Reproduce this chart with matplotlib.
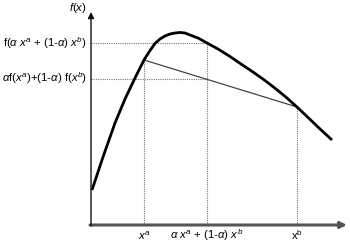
import matplotlib
matplotlib.use('Agg')
import matplotlib.pyplot as plt

plt.rcParams['font.family'] = ['Liberation Sans', 'DejaVu Sans']
plt.rcParams['mathtext.fontset'] = 'custom'
plt.rcParams['mathtext.rm'] = 'Liberation Sans'
plt.rcParams['mathtext.it'] = 'Liberation Sans:italic'

# concave curve f(x) (origin at the axes corner)
curve_x = [1, 12, 24, 34, 44, 53, 59, 64, 69, 74, 79, 84, 89, 94, 99, 107,
           116, 127, 139, 150, 162, 174, 185, 196, 206, 216, 228, 241]
curve_y = [35, 68, 102, 126, 147, 165, 174.5, 181.5, 186, 189, 191, 192, 192.5, 192,
           190, 187, 182, 176, 168.5, 161, 153, 144.5, 136, 127, 118, 108.5, 97, 85]

# points of interest
xa, xb, xm = 53, 206, 116
fa, fb, fm = 165, 118, 182
chord_m = 146.5

tick_pos = [xa, xm, xb]
tick_labels = [r'$x^a$', r'$\alpha\ x^a$ + (1-$\alpha$) $x^b$', r'x$^\mathrm{b}$']
ylabels = [r'f($\alpha\ x^a$ + (1-$\alpha$) $x^b$)', r'$\alpha$f($x^a$)+(1-$\alpha$) f($x^b$)']

fig = plt.figure(figsize=(3.5, 2.44), dpi=100)
ax = fig.add_axes([0, 0, 1, 1])
ax.set_xlim(-91, 259)
ax.set_ylim(-19, 225)
ax.axis('off')

# axes with arrows
ax.annotate('', xy=(256, 0), xytext=(-1, 0),
            arrowprops=dict(arrowstyle='-|>', color='#555555', lw=2.2,
                            mutation_scale=9, shrinkA=0, shrinkB=0))
ax.annotate('', xy=(0, 213), xytext=(0, -1),
            arrowprops=dict(arrowstyle='-|>', color='#111111', lw=1.0,
                            mutation_scale=9, shrinkA=0, shrinkB=0))

dot = dict(color='#777777', lw=0.8, ls=(0, (1, 1)))
ax.plot([xa, xa], [0, fa], **dot)
ax.plot([xm, xm], [0, fm], **dot)
ax.plot([xb, xb], [0, fb], **dot)
ax.plot([0, xm], [fm, fm], **dot)
ax.plot([0, xm], [chord_m, chord_m], **dot)

ax.plot([xa, xb], [fa, fb], color='#444444', lw=0.9)
ax.plot(curve_x, curve_y, color='black', lw=2.0, solid_capstyle='butt',
        solid_joinstyle='round')

for p, lab in zip(tick_pos, tick_labels):
    ax.text(p, -10.5, lab, ha='center', va='center', fontsize=8.2)
for yv, lab in zip([fm, chord_m], ylabels):
    ax.text(-4, yv, lab, ha='right', va='center', fontsize=8.2)
ax.text(-4, 217, r'$f(x)$', ha='right', va='center', fontsize=8.2)

fig.savefig('out.png', dpi=100)
